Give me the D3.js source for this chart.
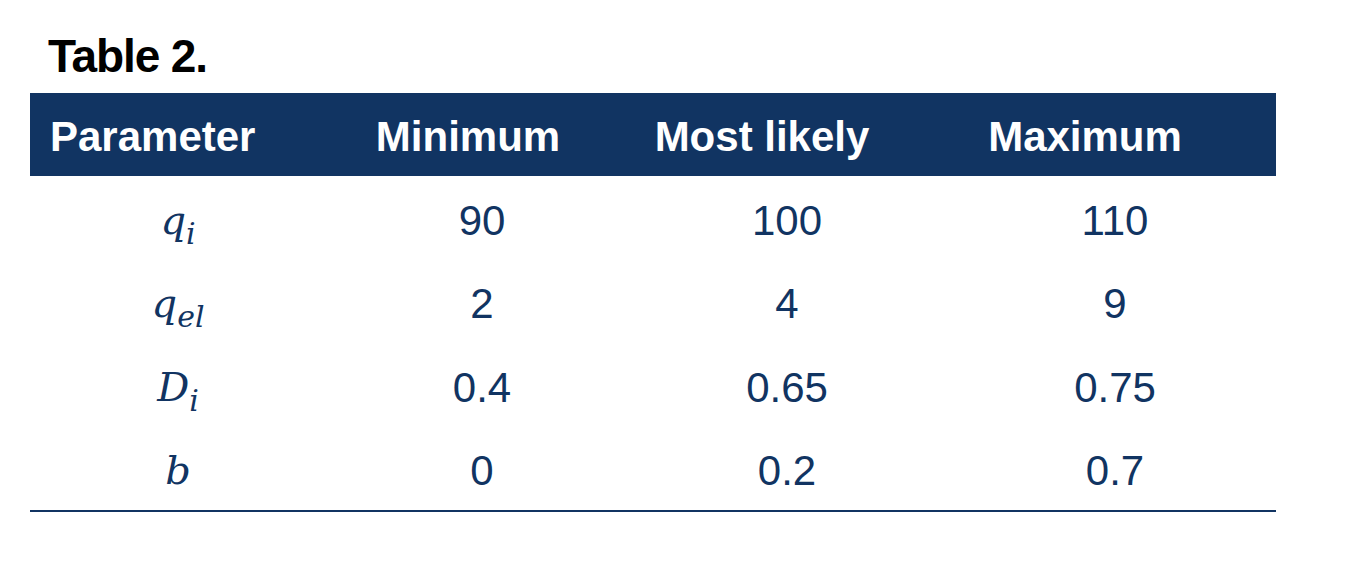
<!DOCTYPE html>
<html><head><meta charset="utf-8">
<script src="https://cdn.jsdelivr.net/npm/d3@7"></script>
<style>body{margin:0;background:#fff}</style>
</head><body>
<div id="chart"></div>
<script>
var title = "Table 2.";
var columns = ["Parameter", "Minimum", "Most likely", "Maximum"];
var params = [["q", "i"], ["q", "el"], ["D", "i"], ["b", ""]];
var minimum = ["90", "2", "0.4", "0"];
var mostLikely = ["100", "4", "0.65", "0.2"];
var maximum = ["110", "9", "0.75", "0.7"];

var navy = "#113462";
var svg = d3.select("#chart").append("svg").attr("width", 1364).attr("height", 562);

svg.append("text").attr("x", 48).attr("y", 72)
  .attr("font-family", "Liberation Sans Narrow, Liberation Sans, Arial").attr("font-weight", "bold")
  .attr("font-size", 46).attr("fill", "#000").attr("textLength", 160).text(title);

var left = 30, right = 1276;
svg.append("rect").attr("x", left).attr("y", 93).attr("width", right - left).attr("height", 83).attr("fill", navy);

// header positions: first left aligned, others centered
var headX = [50, 468, 762, 1085];
svg.selectAll("text.head").data(columns).enter().append("text")
  .attr("class", "head")
  .attr("x", (d, i) => headX[i])
  .attr("y", 151)
  .attr("text-anchor", (d, i) => i === 0 ? "start" : "middle")
  .attr("font-family", "Liberation Sans, Arial").attr("font-weight", "bold")
  .attr("font-size", 42).attr("fill", "#fff").text(d => d);

var y = d3.scalePoint().domain(d3.range(params.length)).range([220, 470]);

var pt = svg.selectAll("text.param").data(params).enter().append("text")
  .attr("class", "param")
  .attr("x", 178).attr("y", (d, i) => y(i) + 14)
  .attr("text-anchor", "middle")
  .attr("font-family", "DejaVu Serif, serif").attr("font-style", "italic")
  .attr("font-size", 40).attr("fill", navy);
pt.append("tspan").text(d => d[0]);
pt.append("tspan").attr("font-size", 30).attr("dy", 10).text(d => d[1]);

var cols = [[minimum, 482], [mostLikely, 787], [maximum, 1115]];
cols.forEach(function(c) {
  svg.selectAll(null).data(c[0]).enter().append("text")
    .attr("x", c[1]).attr("y", (d, i) => y(i) + 15)
    .attr("text-anchor", "middle")
    .attr("font-family", "Liberation Sans, Arial")
    .attr("font-size", 42).attr("fill", navy).text(d => d);
});

svg.append("line").attr("x1", left).attr("x2", right).attr("y1", 511).attr("y2", 511)
  .attr("stroke", navy).attr("stroke-width", 2);
</script>
</body></html>
